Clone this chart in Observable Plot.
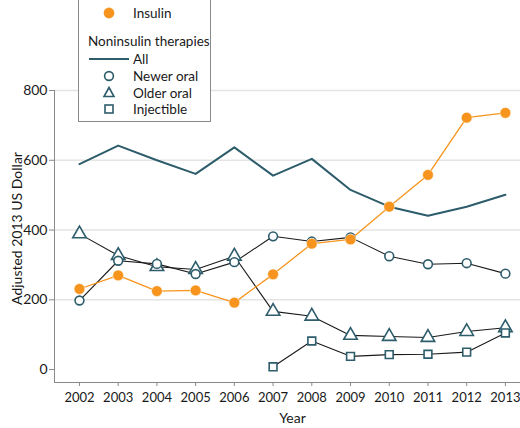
<!DOCTYPE html>
<html>
<head>
<meta charset="utf-8">
<script src="https://cdn.jsdelivr.net/npm/d3@7"></script>
<script src="https://cdn.jsdelivr.net/npm/@observablehq/plot@0.6"></script>
<style>
  html, body { margin: 0; padding: 0; background: #fff; }
  #wrap { position: relative; width: 520px; height: 428px; font-family: Lato, "Noto Sans", sans-serif; }
  #legend { position: absolute; left: 78px; top: -2px; width: 133px; height: 124px; border: 1px solid #8a8a8a; background: #fff; font-size: 13.5px; color: #1a1a1a; box-sizing: border-box; }
  .row { position: absolute; left: 0; height: 16px; line-height: 16px; white-space: nowrap; }
  .row svg { position: absolute; left: 0; top: 0; }
  .row span { position: absolute; left: 54px; }
</style>
</head>
<body>
<div id="wrap"></div>
<script>
const years = [2002, 2003, 2004, 2005, 2006, 2007, 2008, 2009, 2010, 2011, 2012, 2013];
const allNoninsulin = [589, 642, 600, 561, 637, 556, 604, 515, 467, 441, 467, 501];
const insulin = [231, 270, 225, 227, 192, 273, 361, 373, 467, 558, 722, 736];
const newerOral = [198, 312, 303, 274, 308, 382, 367, 379, 325, 302, 305, 275];
const olderOral = [389, 327, 295, 287, 325, 167, 153, 98, 95, 92, 109, 120];
const injectibleYears = [2007, 2008, 2009, 2010, 2011, 2012, 2013];
const injectible = [8, 82, 38, 43, 44, 50, 105];
const yTicks = [0, 200, 400, 600, 800];
const gridTicks = [200, 400, 600, 800];
const yLabel = "Adjusted 2013 US Dollar";
const xLabel = "Year";
const legendLabels = ["Insulin", "Noninsulin therapies", "All", "Newer oral", "Older oral", "Injectible"];

const teal = "#2d5c6b";
const orange = "#f7941d";

const toRows = (xs, ys) => xs.map((x, i) => ({x, y: ys[i]}));
const allRows = toRows(years, allNoninsulin);
const insRows = toRows(years, insulin);
const newRows = toRows(years, newerOral);
const oldRows = toRows(years, olderOral);
const injRows = toRows(injectibleYears, injectible);

const chart = Plot.plot({
  width: 520,
  height: 428,
  marginLeft: 54,
  marginRight: 0,
  marginTop: 90,
  marginBottom: 46,
  style: {fontFamily: "Lato, 'Noto Sans', sans-serif", fontSize: "14px", color: "#1a1a1a", background: "transparent"},
  x: {domain: [2001.355, 2013.39]},
  y: {domain: [-37, 800]},
  marks: [
    Plot.ruleY(gridTicks, {stroke: "#e4e4e4", strokeWidth: 1.6}),
    Plot.frame({anchor: "left", stroke: "#8a8a8a"}),
    Plot.frame({anchor: "bottom", stroke: "#8a8a8a"}),
    Plot.axisY({ticks: yTicks, tickSize: 5, tickPadding: 2, stroke: "#8a8a8a", label: null, tickFormat: d => String(d), fontSize: 14}),
    Plot.axisX({ticks: years, tickSize: 4, tickPadding: 6, stroke: "#8a8a8a", label: null, tickFormat: d => String(d), fontSize: 13}),
    Plot.text([yLabel], {frameAnchor: "left", textAnchor: "middle", rotate: -90, dx: -37, dy: -8, fontSize: 14}),
    Plot.text([xLabel], {frameAnchor: "bottom", textAnchor: "middle", dx: 5, dy: 40, fontSize: 14}),
    Plot.line(allRows, {x: "x", y: "y", stroke: teal, strokeWidth: 2}),
    Plot.line(oldRows, {x: "x", y: "y", stroke: "#1a1a1a", strokeWidth: 1.1}),
    Plot.line(newRows, {x: "x", y: "y", stroke: "#1a1a1a", strokeWidth: 1.1}),
    Plot.line(injRows, {x: "x", y: "y", stroke: "#1a1a1a", strokeWidth: 1.1}),
    Plot.dot(oldRows, {x: "x", y: "y", symbol: "triangle", r: 5, stroke: teal, fill: "white", strokeWidth: 1.6}),
    Plot.dot(newRows, {x: "x", y: "y", symbol: "circle", r: 4.4, stroke: teal, fill: "white", strokeWidth: 1.6}),
    Plot.dot(injRows, {x: "x", y: "y", symbol: "square", r: 4.4, stroke: teal, fill: "white", strokeWidth: 1.6}),
    Plot.line(insRows, {x: "x", y: "y", stroke: orange, strokeWidth: 1.3}),
    Plot.dot(insRows, {x: "x", y: "y", r: 5.4, fill: orange, stroke: "white", strokeWidth: 0.5})
  ]
});

const wrap = document.getElementById("wrap");
wrap.appendChild(chart);

const sym = {
  dot: `<svg width="40" height="16"><circle cx="30" cy="8" r="5.4" fill="${orange}"/></svg>`,
  line: `<svg width="52" height="16"><line x1="10" x2="50" y1="8" y2="8" stroke="${teal}" stroke-width="2"/></svg>`,
  circle: `<svg width="40" height="16"><circle cx="30" cy="8" r="4.4" fill="white" stroke="${teal}" stroke-width="1.6"/></svg>`,
  triangle: `<svg width="40" height="16"><path d="M30,2.5L35,11.5L25,11.5Z" fill="white" stroke="${teal}" stroke-width="1.6"/></svg>`,
  square: `<svg width="40" height="16"><rect x="26" y="4" width="8" height="8" fill="white" stroke="${teal}" stroke-width="1.6"/></svg>`
};
const legend = document.createElement("div");
legend.id = "legend";
const rows = [
  {top: 6, icon: sym.dot, text: legendLabels[0]},
  {top: 34, icon: "", text: legendLabels[1], left: 9},
  {top: 52, icon: sym.line, text: legendLabels[2]},
  {top: 69, icon: sym.circle, text: legendLabels[3]},
  {top: 86, icon: sym.triangle, text: legendLabels[4]},
  {top: 102, icon: sym.square, text: legendLabels[5]}
];
for (const r of rows) {
  const d = document.createElement("div");
  d.className = "row";
  d.style.top = r.top + "px";
  d.innerHTML = r.icon + `<span style="${r.left !== undefined ? "left:" + r.left + "px" : ""}">${r.text}</span>`;
  legend.appendChild(d);
}
wrap.appendChild(legend);
</script>
</body>
</html>
